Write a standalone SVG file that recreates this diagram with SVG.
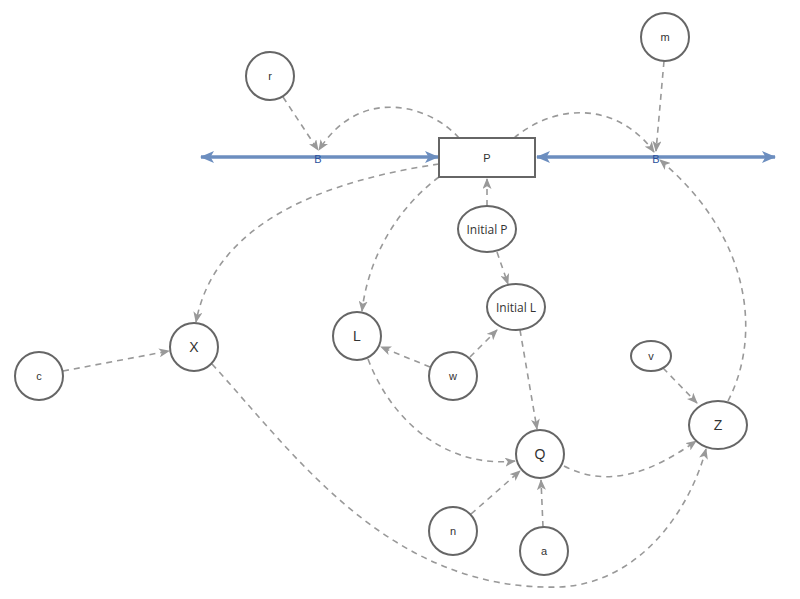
<svg xmlns="http://www.w3.org/2000/svg" width="800" height="599" viewBox="0 0 800 599">
<defs>
<style>
.node{fill:#fff;stroke:#666;stroke-width:2}
.lbl{font-family:"Liberation Sans",Arial,sans-serif;fill:#333;text-anchor:middle;dominant-baseline:central}
.big{font-size:14px}
.sm{font-size:11px}
.mid{font-size:12px;font-family:"Open Sans","Liberation Sans",sans-serif}
.link{fill:none;stroke:#999;stroke-width:1.6;stroke-dasharray:6 5;marker-end:url(#ah)}
.flow{fill:none;stroke:#6c8ebf;stroke-width:3.5;marker-start:url(#fa);marker-end:url(#fa)}
.blbl{font-family:"Liberation Sans",Arial,sans-serif;font-size:11px;fill:#2b4f9c;text-anchor:middle;dominant-baseline:central}
</style>
<marker id="ah" viewBox="0 0 11 9" refX="10" refY="4.5" markerWidth="11" markerHeight="9" markerUnits="userSpaceOnUse" orient="auto">
<path d="M0,0 L11,4.5 L0,9 L2.8,4.5 Z" fill="#999"/>
</marker>
<marker id="fa" viewBox="0 0 14 12" refX="13" refY="6" markerWidth="14" markerHeight="12" markerUnits="userSpaceOnUse" orient="auto-start-reverse">
<path d="M0,0 L14,6 L0,12 L3.5,6 Z" fill="#6c8ebf"/>
</marker>
</defs>
<g id="flows">
<path class="flow" d="M201,157 L438,157"/>
<path class="flow" d="M537,157 L775,157"/>
</g>
<g id="connectors">
<path class="link" d="M283,97 L318,150"/>
<path class="link" d="M459,138 C430,105 360,85 319,150"/>
<path class="link" d="M664,61 L656,151"/>
<path class="link" d="M514,138 C560,100 620,105 654,152"/>
<path class="link" d="M728,401 C760,340 755,240 660,160"/>
<path class="link" d="M439,164 C330,180 215,220 196,322"/>
<path class="link" d="M439,177 C395,210 368,260 362,311"/>
<path class="link" d="M487,206 L487,179"/>
<path class="link" d="M497,252 L508,284"/>
<path class="link" d="M430,367 L381,347"/>
<path class="link" d="M470,357 L497,330"/>
<path class="link" d="M520,330 L537,429"/>
<path class="link" d="M368,359 C395,430 455,468 515,461"/>
<path class="link" d="M564,466 C610,490 655,470 696,441"/>
<path class="link" d="M212,364 C295,455 390,592 560,587 C640,583 690,510 706,449"/>
<path class="link" d="M63,371 L169,351"/>
<path class="link" d="M663,368 L697,403"/>
<path class="link" d="M471,514 L520,471"/>
<path class="link" d="M543,527 L541,480"/>
</g>
<g id="B1"><text class="blbl" x="318" y="159">B</text></g>
<g id="B2"><text class="blbl" x="656" y="159">B</text></g>
<g id="P"><rect class="node" x="439" y="138" width="96" height="39"/><text class="lbl sm" x="487" y="158">P</text></g>
<g id="r"><circle class="node" cx="270" cy="76" r="24"/><text class="lbl sm" x="270" y="76">r</text></g>
<g id="m"><circle class="node" cx="665" cy="37" r="24"/><text class="lbl sm" x="665" y="37">m</text></g>
<g id="InitialP"><ellipse class="node" cx="487" cy="229" rx="29" ry="23"/><text class="lbl mid" x="487" y="229">Initial P</text></g>
<g id="InitialL"><ellipse class="node" cx="516" cy="307" rx="29" ry="23"/><text class="lbl mid" x="516" y="307">Initial L</text></g>
<g id="L"><circle class="node" cx="357" cy="336" r="24"/><text class="lbl big" x="357" y="336">L</text></g>
<g id="w"><circle class="node" cx="453" cy="376" r="24"/><text class="lbl sm" x="453" y="376">w</text></g>
<g id="X"><circle class="node" cx="194" cy="347" r="24"/><text class="lbl big" x="194" y="347">X</text></g>
<g id="c"><circle class="node" cx="39" cy="376" r="24"/><text class="lbl sm" x="39" y="376">c</text></g>
<g id="Q"><circle class="node" cx="540" cy="454" r="24"/><text class="lbl big" x="540" y="454">Q</text></g>
<g id="Z"><ellipse class="node" cx="718" cy="425" rx="29" ry="24"/><text class="lbl big" x="718" y="425">Z</text></g>
<g id="v"><ellipse class="node" cx="651" cy="356" rx="20" ry="15"/><text class="lbl sm" x="651" y="356">v</text></g>
<g id="n"><circle class="node" cx="453" cy="531" r="24"/><text class="lbl sm" x="453" y="531">n</text></g>
<g id="a"><circle class="node" cx="544" cy="551" r="24"/><text class="lbl sm" x="544" y="551">a</text></g>
</svg>
